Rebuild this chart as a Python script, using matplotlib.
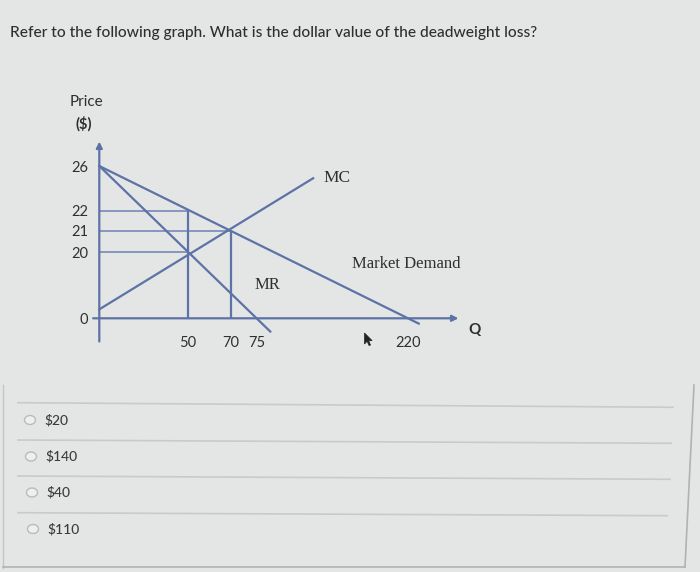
import numpy as np
import matplotlib
matplotlib.use("Agg")
import matplotlib.pyplot as plt
from matplotlib.lines import Line2D
from matplotlib.patches import Circle, Polygon

# ---------------- data ----------------
question = "Refer to the following graph. What is the dollar value of the deadweight loss?"
options = ["$20", "$140", "$40", "$110"]

# curves (Q, P) - schematic
demand_q = [0, 230]
demand_p = [26, -1.6]
mr_q = [0, 88]
mr_p = [26, -4.0]
mc_q = [0, 129]
mc_p = [2.7, 24.9]

# guide lines
hguide_p = [22, 21, 20]
hguide_q_end = [50, 70, 50]
vguide_q = [50, 70]
vguide_p_top = [22, 21]

x_ticks = [50, 70, 75, 220]
x_ticklabels = ["50", "70", "75", "220"]
y_ticks = [0, 20, 21, 22, 26]
y_ticklabels = ["0", "20", "21", "22", "26"]

# -------- schematic (not-to-scale) axis scales: value -> pixel --------
Q_BREAK = np.array([-100, 0, 50, 70, 75, 220, 500], float)
Q_PIX = np.array([-78.1, 99.3, 188.0, 231.0, 256.7, 408.3, 701.0])
P_BREAK = np.array([-50, 0, 20, 21, 22, 26, 50], float)
P_PIX = np.array([484.05, 318.3, 252.0, 230.5, 210.5, 166.0, -101.0])


def xf(q):
    return np.interp(q, Q_BREAK, Q_PIX)


def xi(px):
    return np.interp(px, Q_PIX, Q_BREAK)


def yf(p):
    return -np.interp(p, P_BREAK, P_PIX)


def yi(v):
    return np.interp(v, -P_PIX, P_BREAK)


W, H = 700, 572
BG = "#e4e6e5"
TXT = "#2f2f2f"
LINE = "#5d72a6"
GUIDE = "#7f91bd"

fig = plt.figure(figsize=(W / 100, H / 100), dpi=100, facecolor=BG)


def fx(px):
    return px / W


def fy(py):
    return 1 - py / H


# chart axes: origin of the schematic at the lower-left corner of the axes box
AX_L, AX_R, AX_T, AX_B = 99.3, 520, 120, 318.3
ax = fig.add_axes([fx(AX_L), fy(AX_B), (AX_R - AX_L) / W, (AX_B - AX_T) / H])
ax.set_xscale("function", functions=(xf, xi))
ax.set_yscale("function", functions=(yf, yi))
ax.set_xlim(0, xi(AX_R))
ax.set_ylim(0, yi(-AX_T))
ax.patch.set_alpha(0)
for s in ax.spines.values():
    s.set_visible(False)

# axes with arrows
ax.annotate("", xy=(0, 28.2), xytext=(0, -7.0), annotation_clip=False,
            arrowprops=dict(arrowstyle="-|>", color=LINE, lw=1.6,
                            mutation_scale=9, shrinkA=0, shrinkB=0))
ax.annotate("", xy=(268, 0), xytext=(-3.5, 0), annotation_clip=False,
            arrowprops=dict(arrowstyle="-|>", color=LINE, lw=1.6,
                            mutation_scale=9, shrinkA=0, shrinkB=0))

# guides
for p, qe in zip(hguide_p, hguide_q_end):
    ax.plot([0, qe], [p, p], color=GUIDE, lw=1.3, solid_capstyle="butt", clip_on=False)
for q, pt in zip(vguide_q, vguide_p_top):
    ax.plot([q, q], [pt, 0], color=LINE, lw=1.6, solid_capstyle="butt", clip_on=False)

# curves
ax.plot(demand_q, demand_p, color=LINE, lw=1.6, clip_on=False)
ax.plot(mr_q, mr_p, color=LINE, lw=1.6, clip_on=False)
ax.plot(mc_q, mc_p, color=LINE, lw=1.6, clip_on=False)

# ticks
tick_font = dict(family=["Lato", "DejaVu Sans"], size=10.5, color=TXT)
ax.set_xticks(x_ticks)
ax.set_xticklabels(x_ticklabels, **tick_font)
ax.set_yticks(y_ticks)
ax.set_yticklabels(y_ticklabels, **tick_font)
ax.tick_params(axis="x", length=0, pad=13)
ax.tick_params(axis="y", length=0, pad=8)
ax.minorticks_off()

# axis titles / curve labels
fig.text(fx(86), fy(102), "Price", ha="center", va="center",
         family=["Lato", "DejaVu Sans"], fontsize=11, color=TXT)
fig.text(fx(84), fy(124), "($)", ha="center", va="center",
         family=["Lato", "DejaVu Sans"], fontsize=10.5, color=TXT, weight="bold")
fig.text(fx(475), fy(330), "Q", ha="center", va="center",
         family=["Lato", "DejaVu Sans"], fontsize=11, color=TXT, weight="bold")
serif = dict(family=["Liberation Serif", "DejaVu Serif"], color=TXT)
fig.text(fx(337), fy(178), "MC", ha="center", va="center", fontsize=12.5, **serif)
fig.text(fx(406), fy(264), "Market Demand", ha="center", va="center", fontsize=12, **serif)
fig.text(fx(267), fy(285), "MR", ha="center", va="center", fontsize=12, **serif)

# mouse pointer
ptr = np.array([[0, 0], [0, 11], [2.6, 8.3], [4.6, 12.6], [6.0, 12.0],
                [4.2, 7.8], [7.6, 7.6]]) + np.array([364.5, 333])
fig.patches.append(Polygon([(fx(a), fy(b)) for a, b in ptr], closed=True,
                           transform=fig.transFigure, facecolor="#222222",
                           edgecolor="#222222", lw=0.5))

# question text
fig.text(fx(10), fy(33), question, ha="left", va="center",
         family=["Lato", "DejaVu Sans"], fontsize=11.2, color=TXT, weight="medium")

# answer rows
sep_left_y = [402.7, 440.0, 476.0, 512.7]
sep_right_y = [407.3, 443.3, 479.3, 515.7]
sep_right_x = [673, 671, 670, 667]
for yl, yr, xr in zip(sep_left_y, sep_right_y, sep_right_x):
    fig.add_artist(Line2D([fx(18), fx(xr)], [fy(yl), fy(yr)], color="#c9cbcb", lw=1.2))

opt_y = [420, 456.5, 492.5, 529]
opt_cx = [30, 31, 32, 33]
for lab, yy, cx in zip(options, opt_y, opt_cx):
    fig.patches.append(Circle((fx(cx), fy(yy)), radius=5.5 / W, transform=fig.transFigure,
                              facecolor="#eeefee", edgecolor="#b9bcbc", lw=1.0))
    fig.text(fx(cx + 14), fy(yy), lab, ha="left", va="center",
             family=["Lato", "DejaVu Sans"], fontsize=10, color="#3c3c3c", weight="medium")

# frame lines of the page
fig.add_artist(Line2D([fx(3), fx(3)], [fy(385), fy(568)], color="#c4c6c6", lw=1.0))
fig.add_artist(Line2D([fx(3), fx(685)], [fy(567), fy(567)], color="#b0b3b3", lw=1.2))
fig.add_artist(Line2D([fx(694), fx(685)], [fy(385), fy(567)], color="#b0b3b3", lw=1.2))

fig.savefig("out.png", dpi=100, facecolor=BG)
